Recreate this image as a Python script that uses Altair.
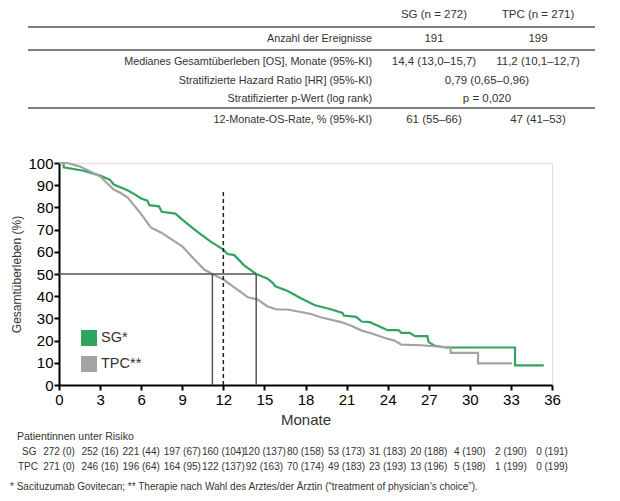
import altair as alt
import pandas as pd

# ---------------- data ----------------
sg_time = [0, 0.34, 0.34, 1.8, 3.0, 3.5, 3.7, 4.0, 5.0, 5.5, 6.0, 6.45, 6.6, 7.3, 7.5, 8.5, 9.0, 9.9,
           11.1, 12.0, 12.3, 12.8, 13.5, 14.4, 15.2, 15.6, 15.8, 16.7, 17.7, 18.65, 19.9, 20.7, 20.8,
           21.7, 22.1, 22.7, 24.0, 24.8, 25.0, 25.6, 26.0, 26.9, 27.0, 27.4, 28.2, 33.3, 33.3, 35.4]
sg_surv = [100, 100, 98, 96.5, 94.3, 93, 92.5, 90.3, 87.7, 86, 84, 83, 81, 80.5, 78, 77.2, 74.5, 70,
           64.5, 61, 59, 58.5, 54, 50, 48, 46, 44.5, 42.3, 39, 36, 34, 32.5, 31.3,
           30.7, 28.6, 28.3, 24.7, 24.7, 23.5, 23.5, 22, 22, 19.3, 17.8, 16.9, 16.9, 8.8, 8.8]

tpc_time = [0, 0.6, 1.5, 3.0, 3.5, 4.0, 4.5, 5.0, 6.0, 6.7, 7.5, 8.5, 9.0, 9.6, 10.6, 11.2, 12.0, 12.8,
            13.8, 14.5, 15.2, 15.9, 16.7, 18.4, 19.1, 20.6, 21.3, 22.1, 22.8, 23.8, 24.5, 25.0, 26.4,
            28.4, 28.6, 28.6, 30.6, 30.6, 33.1]
tpc_surv = [100, 100, 98.5, 94, 91, 88, 86.5, 84.5, 77, 71, 68.5, 64.5, 62.5, 58.5, 52, 50, 47.5, 44,
            39.5, 38.5, 35.5, 34, 34, 32, 30.5, 28.3, 26.8, 24.5, 23.3, 21.2, 20, 18.2, 17.9,
            17, 17, 14.5, 14.5, 9.7, 9.7]

series_names = ["SG*", "TPC**"]
series_colors = ["#2ea45f", "#a3a3a3"]

median_sg = 14.4
median_tpc = 11.2
landmark_month = 12
landmark_top = 88

risk_months = [0, 3, 6, 9, 12, 15, 18, 21, 24, 27, 30, 33, 36]
sg_at_risk = [272, 252, 221, 197, 160, 120, 80, 53, 31, 20, 4, 2, 0]
sg_events = [0, 16, 44, 67, 104, 137, 158, 173, 183, 188, 190, 190, 191]
tpc_at_risk = [271, 246, 196, 164, 122, 92, 70, 49, 23, 13, 5, 1, 0]
tpc_events = [0, 16, 64, 95, 137, 163, 174, 183, 193, 196, 198, 199, 199]

x_ticks = list(range(0, 37, 3))
y_ticks = list(range(0, 101, 10))

table_header = ["SG (n = 272)", "TPC (n = 271)"]
table_rows = [
    ("Anzahl der Ereignisse", "191", "199"),
    ("Medianes Gesamtüberleben [OS], Monate (95%-KI)", "14,4 (13,0–15,7)", "11,2 (10,1–12,7)"),
    ("Stratifizierte Hazard Ratio [HR] (95%-KI)", "0,79 (0,65–0,96)", None),
    ("Stratifizierter p-Wert (log rank)", "p = 0,020", None),
    ("12-Monate-OS-Rate, % (95%-KI)", "61 (55–66)", "47 (41–53)"),
]
footnote = "* Sacituzumab Govitecan; ** Therapie nach Wahl des Arztes/der Ärztin (“treatment of physician’s choice”)."

# ---------------- styling / layout ----------------
FONT = "Liberation Sans"
TXT = "#333333"
W, H = 493, 222

curve_df = pd.concat([
    pd.DataFrame({"t": sg_time, "s": sg_surv, "grp": series_names[0], "i": range(len(sg_time))}),
    pd.DataFrame({"t": tpc_time, "s": tpc_surv, "grp": series_names[1], "i": range(len(tpc_time))}),
])

xs = alt.Scale(domain=[0, 36], nice=False)
ys = alt.Scale(domain=[0, 100], nice=False)
cs = alt.Scale(domain=series_names, range=series_colors)

axis_common = dict(grid=False, labelFont=FONT, labelFontSize=15, labelColor="black",
                   titleFont=FONT, titleFontWeight="normal", titleColor=TXT,
                   tickSize=5, tickWidth=2, domainWidth=2, domainColor="black", tickColor="black",
                   labelFlush=False, labelOverlap=False, labelBound=False)
x_axis = alt.Axis(values=x_ticks, title="Monate", titleFontSize=15, titlePadding=5,
                  labelPadding=2, **axis_common)
y_axis = alt.Axis(values=y_ticks, title="Gesamtüberleben (%)", titleFontSize=12,
                  titlePadding=4, labelPadding=1, **axis_common)


def X(field):
    return alt.X(field, scale=xs, axis=x_axis)


def Y(field):
    return alt.Y(field, scale=ys, axis=y_axis)


curves = alt.Chart(curve_df).mark_line(strokeWidth=2.2).encode(
    x=X("t:Q"), y=Y("s:Q"), order="i:Q",
    color=alt.Color("grp:N", scale=cs, legend=None),
)

# legend swatches, coloured through the same colour scale
legend_pos = [(30, 175), (30, 201)]
legend_layers = []
for name, (lx, ly) in zip(series_names, legend_pos):
    legend_layers.append(
        alt.Chart(pd.DataFrame({"grp": [name]})).mark_square(size=256, opacity=1, filled=True).encode(
            x=alt.value(lx), y=alt.value(ly), color=alt.Color("grp:N", scale=cs, legend=None)))
    legend_layers.append(
        alt.Chart(pd.DataFrame({"grp": [name]})).mark_text(
            align="left", baseline="middle", font=FONT, fontSize=14.5, color=TXT).encode(
            x=alt.value(lx + 12), y=alt.value(ly), text="grp:N"))

med_h = alt.Chart(pd.DataFrame({"x0": [0], "x1": [median_sg], "y": [50]})).mark_rule(
    color="#555555", strokeWidth=1.5).encode(x=X("x0:Q"), x2="x1:Q", y=Y("y:Q"))
med_v = alt.Chart(pd.DataFrame({"x": [median_tpc, median_sg], "y0": [0, 0], "y1": [50, 50]})).mark_rule(
    color="#555555", strokeWidth=1.5).encode(x=X("x:Q"), y=Y("y0:Q"), y2="y1:Q")
landmark = alt.Chart(pd.DataFrame({"x": [landmark_month], "y0": [0], "y1": [landmark_top]})).mark_rule(
    color="#222222", strokeWidth=1.5, strokeDash=[4, 3]).encode(x=X("x:Q"), y=Y("y0:Q"), y2="y1:Q")

# risk table, placed through the x scale
risk_df = pd.DataFrame({
    "m": risk_months,
    "sg": [f"{a} ({e})" for a, e in zip(sg_at_risk, sg_events)],
    "tpc": [f"{a} ({e})" for a, e in zip(tpc_at_risk, tpc_events)],
})
RISK_SIZE = 10
risk_sg = alt.Chart(risk_df).mark_text(font=FONT, fontSize=RISK_SIZE, color=TXT).encode(
    x=X("m:Q"), y=alt.value(289), text="sg:N")
risk_tpc = alt.Chart(risk_df).mark_text(font=FONT, fontSize=RISK_SIZE, color=TXT).encode(
    x=X("m:Q"), y=alt.value(304), text="tpc:N")


def txt(s, x, y, align="left", size=10.8, color=TXT, font=FONT):
    return alt.Chart(pd.DataFrame({"t": [s]})).mark_text(
        align=align, baseline="middle", font=font, fontSize=size, color=color).encode(
        text="t:N", x=alt.value(x), y=alt.value(y))


def hline(y, x0=-31, x1=536):
    return alt.Chart(pd.DataFrame({"a": [0]})).mark_rule(color="#555555", strokeWidth=1.5).encode(
        x=alt.value(x0), x2=alt.value(x1), y=alt.value(y))


layers = [curves, med_h, med_v, landmark, risk_sg, risk_tpc] + legend_layers

# top table
col_sg, col_tpc, col_mid, label_right = 375, 479, 428, 313
row_y = [-124, -101, -82, -64, -43]
layers.append(txt(table_header[0], col_sg, -148, "center", size=11.5))
layers.append(txt(table_header[1], col_tpc, -148, "center", size=11.5))
for (lab, a, b), yy in zip(table_rows, row_y):
    layers.append(txt(lab, label_right, yy, "right"))
    if b is None:
        layers.append(txt(a, col_mid, yy, "center", size=11.5))
    else:
        layers.append(txt(a, col_sg, yy, "center", size=11.5))
        layers.append(txt(b, col_tpc, yy, "center", size=11.5))
for yy in [-136, -113, -55]:
    layers.append(hline(yy))

layers.append(txt("Patientinnen unter Risiko", -42, 274, size=10.5))
layers.append(txt("SG", -37, 289, size=RISK_SIZE))
layers.append(txt("TPC", -41, 304, size=RISK_SIZE))
layers.append(txt(footnote, -49, 324, size=10))

chart = alt.layer(*layers).properties(
    width=W, height=H,
    autosize=alt.AutoSizeParams(type="none"),
    padding={"left": 51, "top": 155, "right": 60, "bottom": 110},
).configure_view(stroke=None).configure(background="white")

chart.save("out.html", embed_options={"renderer": "svg", "actions": False})
